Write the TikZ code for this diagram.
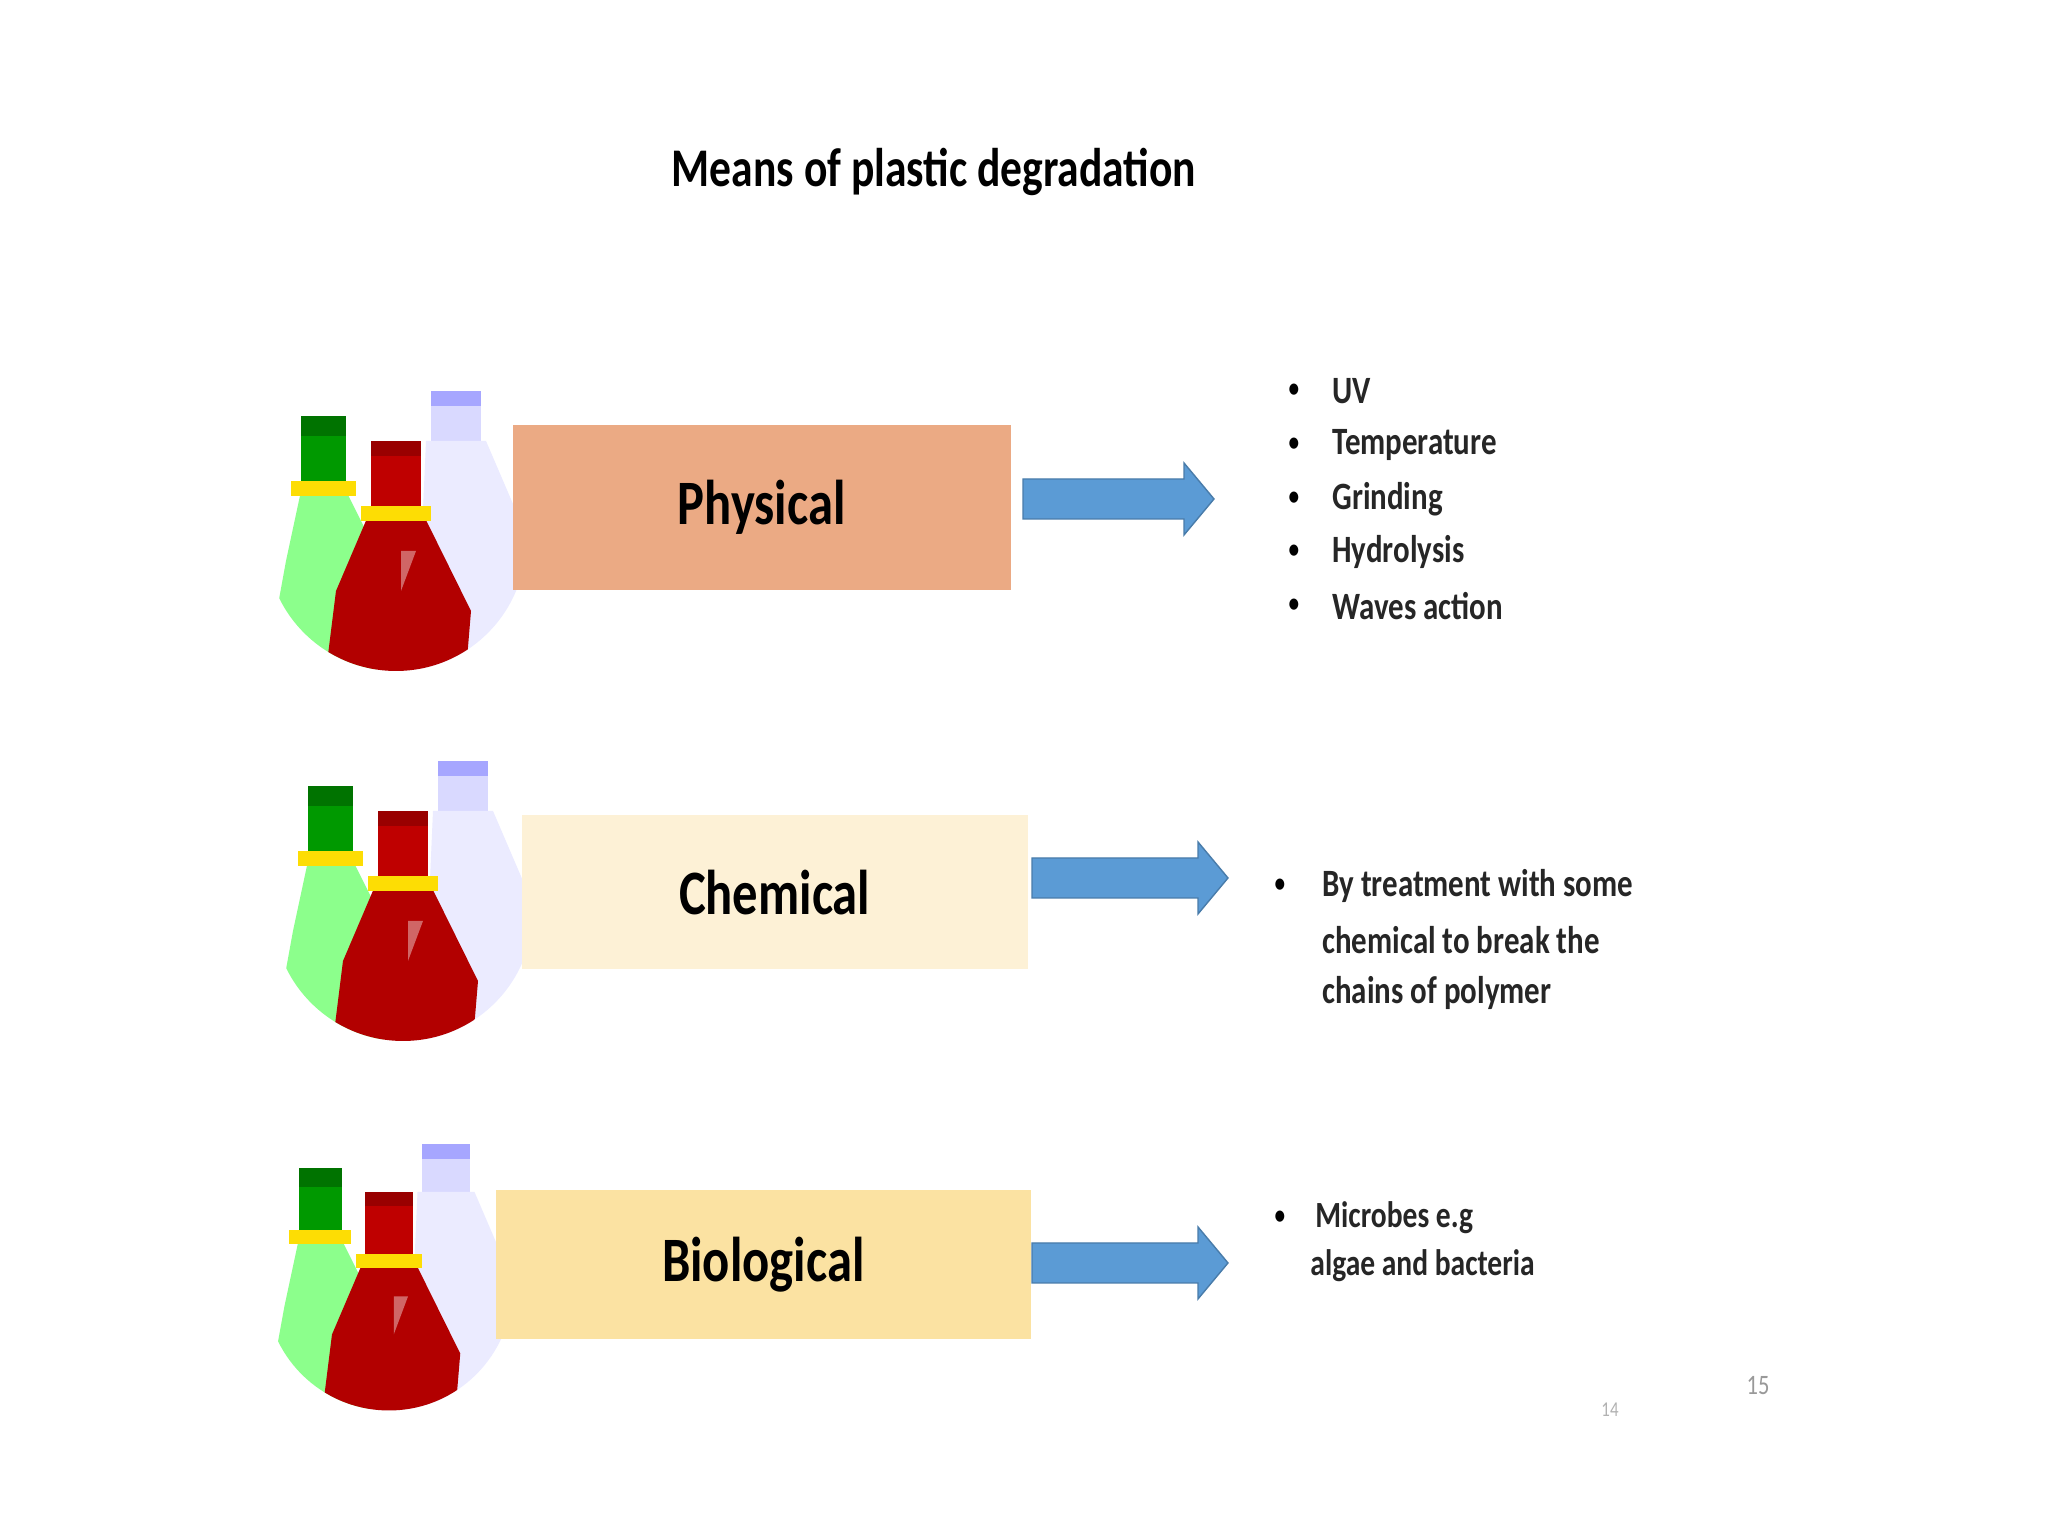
\documentclass[tikz,border=0pt]{standalone}
\usepackage{fontspec}
\setmainfont{Carlito}[FakeStretch=0.8]
\definecolor{phys}{HTML}{EBAA84}
\definecolor{chem}{HTML}{FDF1D6}
\definecolor{bio}{HTML}{FBE2A2}
\definecolor{arr}{HTML}{5B9BD5}
\tikzset{
  box/.style={draw=none,anchor=south west},
  lab/.style={font=\fontsize{18}{22}\selectfont\bfseries},
  btxt/.style={anchor=west,font=\fontsize{11}{14}\selectfont\bfseries,text=black!85},
  bul/.style={anchor=center,font=\fontsize{9}{11}\selectfont},
  barrow/.style={fill=arr,draw=arr!80!black,line width=0.4pt}
}
\newcommand{\myarrow}[3]{% x1 x2 y
  \draw[barrow] (#1,#3-0.2) -- (#2-0.3,#3-0.2) -- (#2-0.3,#3-0.36) -- (#2,#3) -- (#2-0.3,#3+0.36) -- (#2-0.3,#3+0.2) -- (#1,#3+0.2) -- cycle;}
\newcommand{\mybottles}[3]{%
\begin{scope}[shift={(#1,#2)},scale=#3]
 \fill[white] (0,0) circle (1.3);
 \begin{scope}
 \clip (-1.3,1.8) -- (1.3,1.8) -- (1.3,0) arc (0:-180:1.3) -- cycle;
 % blue bottle
 \fill[blue!15!white] (0.35,1.0) rectangle (0.85,1.45);
 \fill[blue!35!white] (0.35,1.35) rectangle (0.85,1.5);
 \fill[blue!8!white] (0.3,1.0) -- (0.9,1.0) -- (1.2,0.3) -- (1.3,-1.3) -- (0.2,-1.3) -- cycle;
 % green bottle
 \fill[green!60!black] (-0.95,0.55) rectangle (-0.5,1.2);
 \fill[green!45!black] (-0.95,1.05) rectangle (-0.5,1.25);
 \fill[green!45!white] (-0.95,0.5) -- (-0.5,0.5) -- (-0.1,-0.3) -- (-0.2,-1.3) -- (-1.3,-1.3) -- (-1.1,-0.2) -- cycle;
 \fill[yellow!80!orange] (-1.05,0.45) rectangle (-0.4,0.6);
 % red bottle
 \fill[red!75!black] (-0.25,0.3) rectangle (0.25,0.95);
 \fill[red!60!black] (-0.25,0.85) rectangle (0.25,1.0);
 \fill[red!70!black] (-0.28,0.25) -- (0.28,0.25) -- (0.75,-0.7) -- (0.7,-1.3) -- (-0.7,-1.3) -- (-0.6,-0.5) -- cycle;
 \fill[yellow!80!orange] (-0.35,0.2) rectangle (0.35,0.35);
 \fill[white,opacity=0.4] (0.05,-0.1) -- (0.2,-0.1) -- (0.05,-0.5) -- cycle;
 \end{scope}
\end{scope}}
\begin{document}
\begin{tikzpicture}
\useasboundingbox (0,0) rectangle (20.48,15.36);
\fill[white] (0,0) rectangle (20.48,15.36);
\node[font=\fontsize{15.5}{19}\selectfont\bfseries] (title) at (9.34,13.64) {Means of plastic degradation};

\mybottles{3.96}{9.95}{1}
\mybottles{4.03}{6.25}{1}
\mybottles{3.89}{2.49}{0.95}

\node[box,fill=phys,minimum width=4.98cm,minimum height=1.65cm] (pb) at (5.12,9.45) {};
\node[lab] (pt) at (pb.center) {Physical};
\node[box,fill=chem,minimum width=5.06cm,minimum height=1.54cm] (cb) at (5.21,5.66) {};
\node[lab] (ct) at (cb.center) {Chemical};
\node[box,fill=bio,minimum width=5.35cm,minimum height=1.49cm] (bb) at (4.95,1.96) {};
\node[lab] (bt) at (bb.center) {Biological};

\myarrow{10.23}{12.14}{10.37}
\myarrow{10.32}{12.28}{6.58}
\myarrow{10.32}{12.28}{2.73}

\foreach \y/\t [count=\i] in {11.45/UV,10.91/Temperature,10.37/Grinding,9.84/Hydrolysis,9.30/Waves action}{
  \node[bul] (pbul\i) at (12.94,\y) {•};
  \node[btxt] (pl\i) at (13.20,\y) {\t};
}
\node[bul] (cbul) at (12.80,6.50) {•};
\node[btxt] (cl1) at (13.10,6.50) {By treatment with some};
\node[btxt] (cl2) at (13.10,5.96) {chemical to break the};
\node[btxt] (cl3) at (13.10,5.43) {chains of polymer};
\node[bul] (bbul) at (12.80,3.18) {•};
\node[btxt,font=\fontsize{10.5}{13}\selectfont\bfseries] (bl1) at (13.03,3.18) {Microbes e.g};
\node[btxt,font=\fontsize{10.5}{13}\selectfont\bfseries] (bl2) at (12.98,2.70) {algae and bacteria};

\node[text=black!40,font=\fontsize{8}{10}\selectfont] (n15) at (17.58,1.50) {15};
\node[text=black!30,font=\fontsize{6}{8}\selectfont] (n14) at (16.10,1.26) {14};
\end{tikzpicture}
\end{document}
